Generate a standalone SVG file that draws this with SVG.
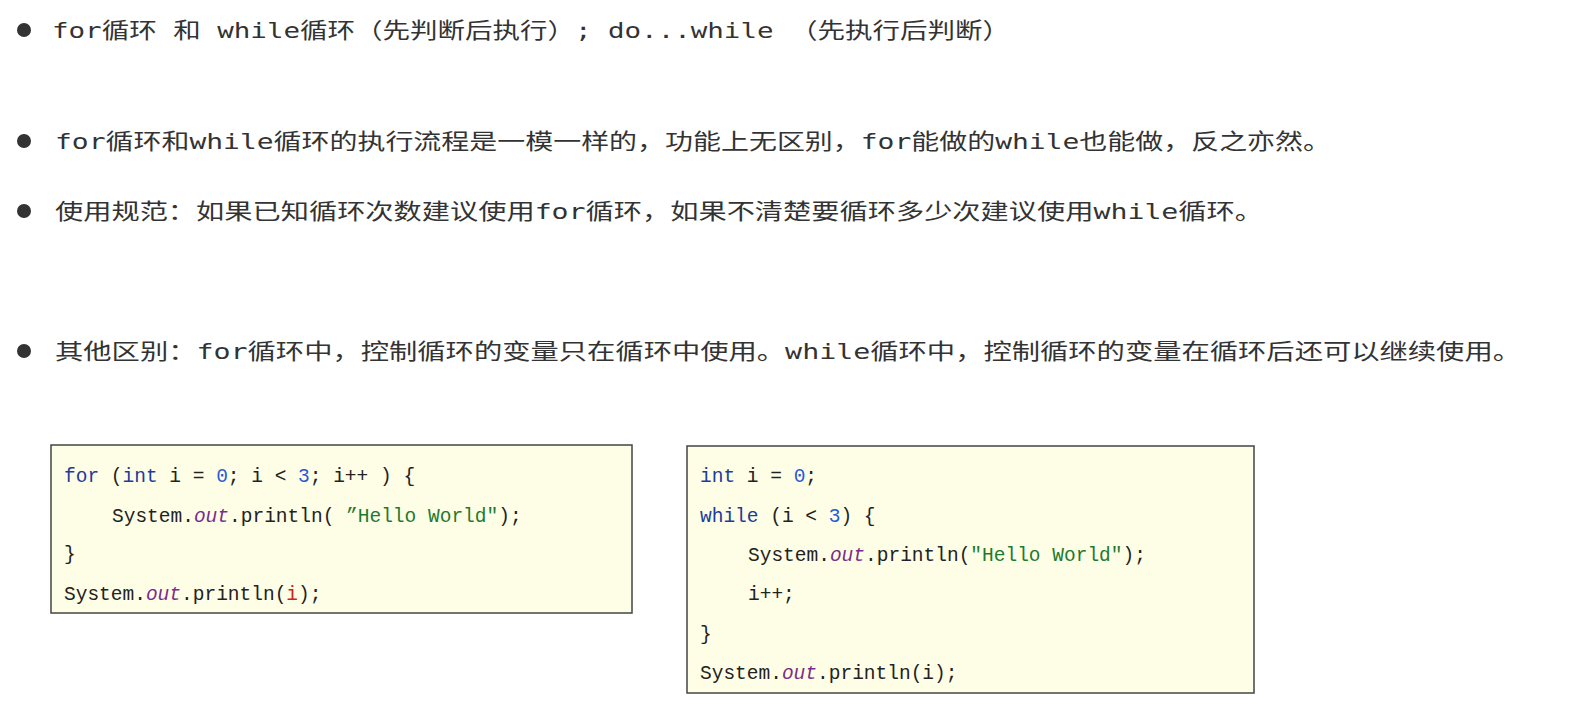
<svg xmlns="http://www.w3.org/2000/svg" width="1592" height="726" viewBox="0 0 1592 726">
<style>
.t{font-family:"DejaVu Sans Mono","Noto Sans CJK SC",monospace;font-size:22px;fill:#333}
.c{font-family:"Liberation Mono","DejaVu Sans Mono",monospace;font-size:19.5px;fill:#222}
.box{fill:#fefee6;stroke:#444;stroke-width:1.5}
.k{fill:#1d3c9c}.n{fill:#2a5ad8}.o{fill:#7a2c8c;font-style:italic}.s{fill:#1f7a2e}.r{fill:#d0201a}
</style>
<rect width="1592" height="726" fill="#fff"/>
<g fill="#333">
<circle cx="24" cy="30" r="7"/><circle cx="24" cy="141" r="7"/><circle cx="24" cy="211" r="7"/><circle cx="24" cy="351" r="7"/>
</g>
<text class="t" x="52" y="38" textLength="958" lengthAdjust="spacingAndGlyphs">for循环 和 while循环（先判断后执行）; do...while （先执行后判断）</text>
<text class="t" x="55" y="149" textLength="1276" lengthAdjust="spacingAndGlyphs">for循环和while循环的执行流程是一模一样的，功能上无区别，for能做的while也能做，反之亦然。</text>
<text class="t" x="55" y="219" textLength="1208" lengthAdjust="spacingAndGlyphs">使用规范：如果已知循环次数建议使用for循环，如果不清楚要循环多少次建议使用while循环。</text>
<text class="t" x="55" y="359" textLength="1466" lengthAdjust="spacingAndGlyphs">其他区别：for循环中，控制循环的变量只在循环中使用。while循环中，控制循环的变量在循环后还可以继续使用。</text>
<g id="forBox">
<rect class="box" x="51" y="445" width="581" height="168"/>
<text class="c" x="64" y="482"><tspan class="k">for</tspan> (<tspan class="k">int</tspan> i = <tspan class="n">0</tspan>; i &lt; <tspan class="n">3</tspan>; i++ ) {</text>
<text class="c" x="112" y="522">System.<tspan class="o">out</tspan>.println( <tspan class="s">”Hello World"</tspan>);</text>
<text class="c" x="64" y="560">}</text>
<text class="c" x="64" y="600">System.<tspan class="o">out</tspan>.println(<tspan class="r">i</tspan>);</text>
</g>
<g id="whileBox">
<rect class="box" x="687" y="446" width="567" height="247"/>
<text class="c" x="700" y="482"><tspan class="k">int</tspan> i = <tspan class="n">0</tspan>;</text>
<text class="c" x="700" y="522"><tspan class="k">while</tspan> (i &lt; <tspan class="n">3</tspan>) {</text>
<text class="c" x="748" y="561">System.<tspan class="o">out</tspan>.println(<tspan class="s">"Hello World"</tspan>);</text>
<text class="c" x="748" y="600">i++;</text>
<text class="c" x="700" y="640">}</text>
<text class="c" x="700" y="679">System.<tspan class="o">out</tspan>.println(i);</text>
</g>
</svg>
